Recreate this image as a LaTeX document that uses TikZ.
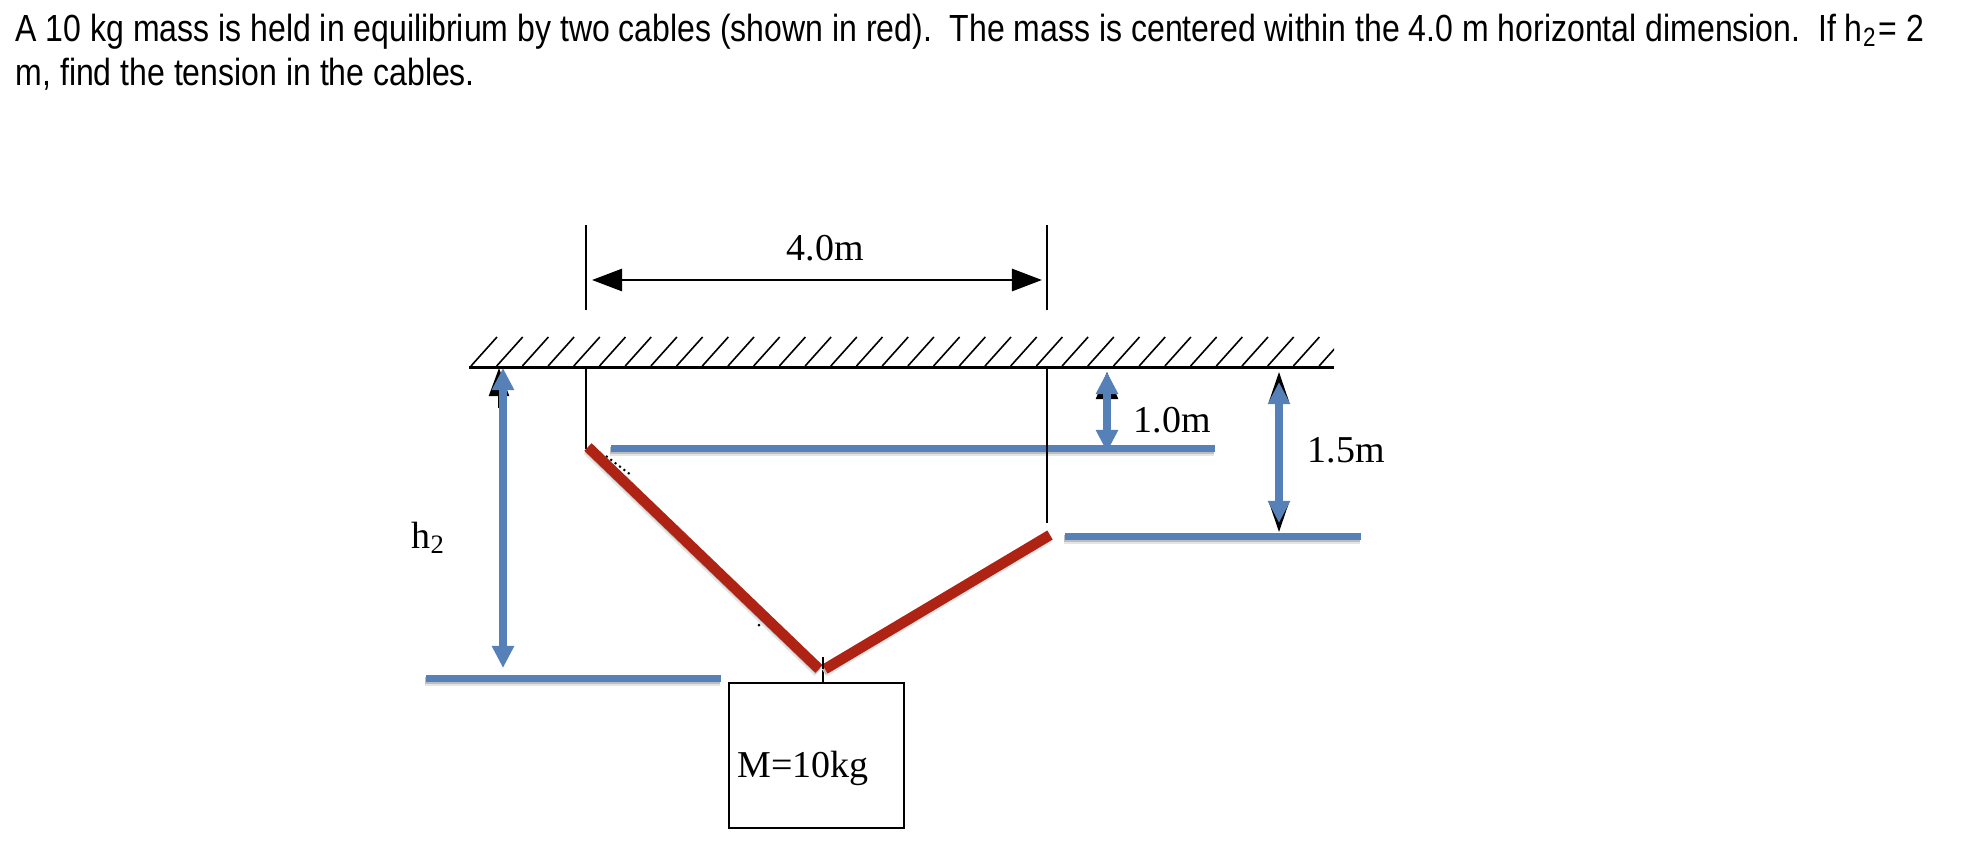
\documentclass[tikz,border=0pt]{standalone}
\usepackage{fontspec}
\setmainfont{Liberation Sans}[FakeStretch=0.847]
\newfontfamily\dimfont{Liberation Serif}
\usetikzlibrary{arrows.meta}
\definecolor{dimblue}{HTML}{5680B8}
\definecolor{cablered}{HTML}{AE2314}
\tikzset{
  prose/.style={anchor=base west,inner sep=0pt,font=\fontsize{10.75}{13}\selectfont},
  dimtext/.style={anchor=base west,inner sep=0pt,font=\dimfont\fontsize{10.8}{13}\selectfont},
  level/.style={draw=dimblue,line width=.07cm},
  cable/.style={draw=cablered,line width=.105cm},
  softwide/.style={draw=black!10,line width=.095cm},
  softnarrow/.style={draw=black!26,line width=.07cm},
  bluedim/.style={draw=dimblue,line width=.075cm,{Triangle[length=.22cm,width=.21cm]}-{Triangle[length=.22cm,width=.21cm]}},
  blackdim/.style={draw=black,line width=.028cm,{Triangle[length=.3cm,width=.22cm]}-{Triangle[length=.3cm,width=.22cm]}},
  thin line/.style={draw=black,line width=.022cm}
}
\begin{document}
\begin{tikzpicture}[x=.01cm,y=-.01cm]
  \useasboundingbox (0,0) rectangle (1984,851);
  \node[prose] (line1) at (15,41) {A 10 kg mass is held in equilibrium by two cables (shown in red).\ \ The mass is centered within the 4.0 m horizontal dimension.\ \ If h\textsubscript{2}\kern.04em= 2};
  \node[prose] (line2) at (15,85) {m, find the tension in the cables.};
  \draw
    (586,225) coordinate (extLa)
    (586,310) coordinate (extLb)
    (1047,225) coordinate (extRa)
    (1047,310) coordinate (extRb)
    (592,280) coordinate (dimL)
    (1042,280) coordinate (dimR)
    (469,367) coordinate (roofL)
    (1334,367) coordinate (roofR)
    (586,367) coordinate (hangL)
    (586,449) coordinate (pinL)
    (1047,367) coordinate (hangR)
    (1047,523) coordinate (pinR)
    (823,657) coordinate (stub)
    (819,669) coordinate (cableA)
    (825,669) coordinate (cableB)
    (588,447) coordinate (cableL)
    (1050,535) coordinate (cableR)
    (611,448) coordinate (levelAa)
    (1215,448) coordinate (levelAb)
    (1065,536) coordinate (levelBa)
    (1361,536) coordinate (levelBb)
    (1103,540) coordinate (baseBa)
    (1334,540) coordinate (baseBb)
    (426,678) coordinate (levelCa)
    (721,678) coordinate (levelCb)
    (503,368) coordinate (hTop)
    (503,668) coordinate (hBot)
    (1107,372) coordinate (oneTop)
    (1107,452) coordinate (oneBot)
    (1279,382) coordinate (halfTop)
    (1279,523) coordinate (halfBot)
    (1279,372) coordinate (halfTopK)
    (1279,532) coordinate (halfBotK);
  % ceiling
  \begin{scope}
    \clip (469,336) rectangle (1334,367);
    \foreach \i in {0,...,33}
      \draw[thin line,line width=.016cm] (471+25.7*\i,366) -- ++(26,-29);
  \end{scope}
  \draw[thin line,line width=.03cm] (roofL) to (roofR);
  % black drawing underneath
  \draw[thin line] (extLa) to (extLb);
  \draw[thin line] (extRa) to (extRb);
  \draw[blackdim] (dimL) to (dimR);
  \draw[thin line] (hangL) to (pinL);
  \draw[thin line] (hangR) to (pinR);
  \draw[thin line] (baseBa) to (baseBb);
  \draw[blackdim,line width=.015cm,{Triangle[length=.3cm,width=.2cm]}-{Triangle[length=.3cm,width=.2cm]}] (halfTopK) to (halfBotK);
  \draw[thin line,{Triangle[length=.27cm,width=.22cm]}-] (oneTop) to ++(0,40);
  \draw[thin line,line width=.04cm] (1099,453) to (1114,453);
  \draw[thin line,{Triangle[length=.28cm,width=.2cm]}-] (499,368) to ++(0,40);
  \draw[black,line width=.02cm,densely dotted] (606,456) to (631,475);
  \fill (759,625) circle (1.5);
  % mass
  \node[draw,line width=.024cm,minimum width=1.75cm,minimum height=1.45cm,inner sep=0pt] (mass) at (816.5,755.5) {};
  \draw[thin line] (stub) to (stub |- mass.north);
  \node[dimtext] (masslabel) at (737,777) {M=10kg};
  % shadows, then blue levels and cables
  \foreach \a/\b in {levelAa/levelAb,levelBa/levelBb,levelCa/levelCb,cableL/cableA,cableB/cableR}
  {
    \draw[softwide] ([xshift=-.01cm,yshift=-.035cm]\a) to ([xshift=-.01cm,yshift=-.035cm]\b);
    \draw[softnarrow] ([xshift=-.01cm,yshift=-.025cm]\a) to ([xshift=-.01cm,yshift=-.025cm]\b);
  }
  \draw[level] (levelAa) to (levelAb);
  \draw[thin line] (1047,440) to (1047,456);
  \draw[level] (levelBa) to (levelBb);
  \draw[level] (levelCa) to (levelCb);
  \draw[cable] (cableL) to (cableA);
  \draw[cable] (cableB) to (cableR);
  \draw[thin line] (stub) to ++(0,12);
  \draw[bluedim] (hTop) to (hBot);
  \draw[bluedim] (oneTop) to (oneBot);
  \draw[bluedim] (halfTop) to (halfBot);
  % labels
  \node[dimtext] (span) at (786,260) {4.0m};
  \node[dimtext] (onem) at (1133,432) {1.0m};
  \node[dimtext] (halfm) at (1307,462) {1.5m};
  \node[dimtext] (hlabel) at (411,548) {h\textsubscript{2}};
\end{tikzpicture}
\end{document}
